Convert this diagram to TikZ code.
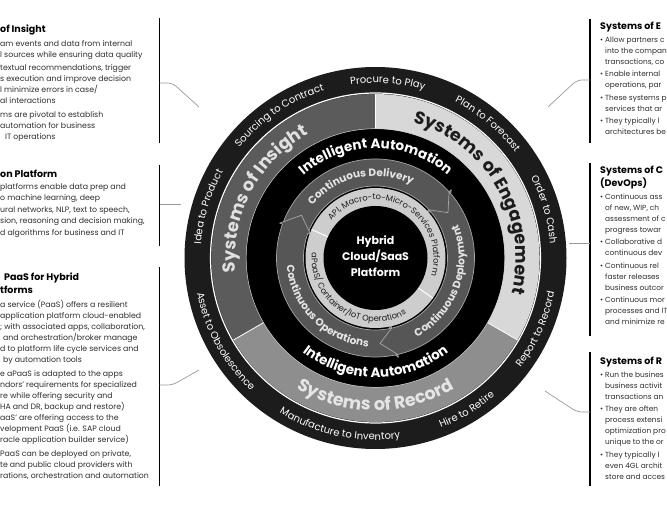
\documentclass[tikz,border=0pt]{standalone}
\usepackage{fontspec}
\setmainfont{Poppins}
\usetikzlibrary{decorations.text, positioning, calc}

\definecolor{ringblack}{HTML}{1C1C1C}
\definecolor{insightgray}{HTML}{5B5B5B}
\definecolor{engagegray}{HTML}{D8D8D8}
\definecolor{recordgray}{HTML}{8E8E8E}
\definecolor{contgray}{HTML}{565656}
\definecolor{contline}{HTML}{A5A5A5}
\definecolor{apigray}{HTML}{CDCDCD}
\definecolor{linkgray}{HTML}{9A9A9A}
\definecolor{bodytext}{HTML}{2E2E2E}

\tikzset{
  paneltitle/.style={anchor=north west, inner sep=0pt, font=\fontsize{9.5}{13}\selectfont\bfseries, align=left},
  panelbody/.style={inner sep=0pt, font=\fontsize{7.8}{11}\selectfont, text=bodytext, align=left},
  panelbar/.style={line width=1.3pt},
  link/.style={linkgray, line width=0.7pt, rounded corners=5pt},
}

% text along an arc, centred on angle #1, radius #2
\newcommand{\cwlabel}[4]{\path[decorate, decoration={text along path, text align=center, #3, text={#4}}] ({#1+110}:#2) arc[start angle={#1+110}, end angle={#1-110}, radius=#2];}
\newcommand{\ccwlabel}[4]{\path[decorate, decoration={text along path, text align=center, #3, text={#4}}] ({#1-110}:#2) arc[start angle={#1-110}, end angle={#1+110}, radius=#2];}
% one curved block arrow of the delivery cycle, from #1 to #2 (clockwise)
\newcommand{\cyclearrow}[2]{\filldraw[fill=contgray, draw=contline, line width=0.7pt, line join=round]
  (#1:99) arc[start angle=#1, end angle=#2, radius=99] -- (#2:102) -- ({#2-10}:85.5) -- (#2:69) -- (#2:72)
  arc[start angle=#2, end angle=#1, radius=72] -- ({#1-10}:85.5) -- cycle;}
\newcommand{\bul}{\textbullet\ }
\newcommand{\ind}{\phantom{\textbullet\ }}

\begin{document}
\begin{tikzpicture}[x=1pt, y=1pt]
\useasboundingbox (0,0) rectangle (667,504);

% the wheel
\begin{scope}[shift={(375.5,246)}]
\fill[ringblack] (0,0) circle[radius=191];
\fill[insightgray] (90:164) arc[start angle=90, end angle=210, radius=164] -- (210:129) arc[start angle=210, end angle=90, radius=129] -- cycle;
\fill[engagegray] (-30:164) arc[start angle=-30, end angle=90, radius=164] -- (90:129) arc[start angle=90, end angle=-30, radius=129] -- cycle;
\fill[recordgray] (210:164) arc[start angle=210, end angle=330, radius=164] -- (330:129) arc[start angle=330, end angle=210, radius=129] -- cycle;
\draw[white, line width=1.2pt] (0,0) circle[radius=165];
\foreach \a in {90,210,330}
  \draw[white, line width=0.8pt] (\a:129) -- (\a:164);
\fill[black] (0,0) circle[radius=129];
\draw[white!80!black, line width=0.5pt] (0,0) circle[radius=129.3];

% continuous delivery cycle
\cyclearrow{160}{42}
\cyclearrow{42}{-77}
\cyclearrow{-77}{-200}

\fill[apigray] (0,0) circle[radius=70];
\foreach \a in {156,-35}
  \draw[white, line width=1pt] (\a:52) -- (\a:70);
\fill[black] (0,0) circle[radius=52];
\node[align=center, text=white, font=\fontsize{11}{16}\selectfont\bfseries] (hub) at (0,2) {Hybrid\\Cloud/SaaS\\Platform};

% value streams
\cwlabel{124}{175}{text color=white}{|\fontsize{10}{10}\selectfont|Sourcing to Contract}
\cwlabel{86}{175}{text color=white}{|\fontsize{10}{10}\selectfont|Procure to Play}
\cwlabel{50}{175}{text color=white}{|\fontsize{10}{10}\selectfont|Plan to Forecast}
\cwlabel{16}{175}{text color=white}{|\fontsize{10}{10}\selectfont|Order to Cash}
\cwlabel{163}{175}{text color=white}{|\fontsize{10}{10}\selectfont|Idea to Product}
\ccwlabel{209}{182}{text color=white}{|\fontsize{10}{10}\selectfont|Asset to Obsolescence}
\ccwlabel{258}{182}{text color=white}{|\fontsize{10}{10}\selectfont|Manufacture to Inventory}
\ccwlabel{301}{182}{text color=white}{|\fontsize{10}{10}\selectfont|Hire to Retire}
\ccwlabel{336}{182}{text color=white}{|\fontsize{10}{10}\selectfont|Report to Record}

% systems
\cwlabel{152}{140.4}{text color=white!88!black}{|\fontsize{17.5}{17.5}\selectfont\bfseries|Systems of Insight}
\cwlabel{30}{140.4}{text color=ringblack}{|\fontsize{17.5}{17.5}\selectfont\bfseries|Systems of Engagement}
\ccwlabel{270}{152.6}{text color=white!90!black}{|\fontsize{17.5}{17.5}\selectfont\bfseries|Systems of Record}

% intelligent automation
\cwlabel{90}{109.8}{text color=white}{|\fontsize{13.5}{13.5}\selectfont\bfseries|Intelligent Automation}
\ccwlabel{270}{119.2}{text color=white}{|\fontsize{13.5}{13.5}\selectfont\bfseries|Intelligent Automation}

% cycle
\cwlabel{102}{81.9}{text color=white!90!black}{|\fontsize{10.5}{10.5}\selectfont\bfseries|Continuous Delivery}
\ccwlabel{-20}{89.1}{text color=white!90!black}{|\fontsize{10.5}{10.5}\selectfont\bfseries|Continuous Deployment}
\ccwlabel{225}{89.1}{text color=white!90!black}{|\fontsize{10.5}{10.5}\selectfont\bfseries|Continuous Operations}

% platform ring
\cwlabel{61}{58.1}{text color=ringblack}{|\fontsize{8.3}{8.3}\selectfont|API, Macro-to-Micro-Services Platform}
\ccwlabel{237}{63.9}{text color=ringblack}{|\fontsize{8.3}{8.3}\selectfont|aPaaS/ Container/IoT Operations}
\end{scope}

% left panels
\node[paneltitle] (insTitle) at (0,479) {of Insight};
\node[panelbody, below right=5pt and 0pt of insTitle.south west] (insBody) {am events and data from internal\\
l sources while ensuring data quality\\[2pt]
textual recommendations, trigger\\
s execution and improve decision\\
l minimize errors in case/\\
al interactions\\[3pt]
ms are pivotal to establish\\
automation for business\\
\hspace{5pt}IT operations};

\node[paneltitle] (aiTitle) at (0,334) {on Platform};
\node[panelbody, below right=5pt and 0pt of aiTitle.south west, font=\fontsize{7.8}{11.5}\selectfont] (aiBody) {platforms enable data prep and\\
o machine learning, deep\\
ural networks, NLP, text to speech,\\
sion, reasoning and decision making,\\
d algorithms for business and IT};

\node[paneltitle] (paasTitle) at (4,231) {PaaS for Hybrid\\\hspace{-4pt}tforms};
\node[panelbody, below right=6pt and -4pt of paasTitle.south west] (paasBody) {a service (PaaS) offers a resilient\\
application platform cloud-enabled\\
; with associated apps, collaboration,\\
\hspace{3pt}and orchestration/broker manage\\
d to platform life cycle services and\\
\hspace{3pt}by automation tools\\[3pt]
e aPaaS is adapted to the apps\\
ndors' requirements for specialized\\
re while offering security and\\
HA and DR, backup and restore)\\
aaS' are offering access to the\\
velopment PaaS (i.e. SAP cloud\\
racle application builder service)\\[3pt]
PaaS can be deployed on private,\\
te and public cloud providers with\\
rations, orchestration and automation};

% right panels
\node[paneltitle] (engTitle) at (600,482) {Systems of E};
\node[panelbody, below right=4pt and 0pt of engTitle.south west, font=\fontsize{7.4}{11}\selectfont] (engBody) {\bul Allow partners c\\
\ind into the compan\\
\ind transactions, co\\[1.5pt]
\bul Enable internal\\
\ind operations, par\\[1.5pt]
\bul These systems p\\
\ind services that ar\\[1.5pt]
\bul They typically l\\
\ind architectures be};

\node[paneltitle] (devTitle) at (600,338) {Systems of C\\(DevOps)};
\node[panelbody, below right=4pt and 0pt of devTitle.south west, font=\fontsize{7.4}{11}\selectfont] (devBody) {\bul Continuous ass\\
\ind of new, WIP, ch\\
\ind assessment of c\\
\ind progress towar\\[1.5pt]
\bul Collaborative d\\
\ind continuous dev\\[1.5pt]
\bul Continuous rel\\
\ind faster releases\\
\ind business outcor\\[1.5pt]
\bul Continuous mor\\
\ind processes and IT\\
\ind and minimize re};

\node[paneltitle] (recTitle) at (600,147) {Systems of R};
\node[panelbody, below right=4pt and 0pt of recTitle.south west, font=\fontsize{7.4}{11}\selectfont] (recBody) {\bul Run the busines\\
\ind business activit\\
\ind transactions an\\[1.5pt]
\bul They are often\\
\ind process extensi\\
\ind optimization pro\\
\ind unique to the or\\[1.5pt]
\bul They typically l\\
\ind even 4GL archit\\
\ind store and acces};

% bars
\draw[panelbar] (159.5,486) -- (159.5,361);
\draw[panelbar] (159.5,339) -- (159.5,258);
\draw[panelbar] (159.5,237) -- (159.5,18);
\draw[panelbar] (590,485) -- (590,361);
\draw[panelbar] (590,341) -- (590,168);
\draw[panelbar] (590,152) -- (590,18);

% connectors
\coordinate (insBar) at (159.5,421);
\coordinate (insRing) at (199,397);
\coordinate (aiBar) at (159.5,300);
\coordinate (aiRing) at (181,300);
\coordinate (paasBar) at (159.5,119);
\coordinate (paasRing) at (199,134);
\coordinate (engBar) at (590,424);
\coordinate (engRing) at (548,397);
\coordinate (devBar) at (590,261);
\coordinate (devRing) at (569,261);
\coordinate (recBar) at (590,92);
\coordinate (recRing) at (545,113);
\draw[link] (insBar) -- ++(13,0) -- (insRing);
\draw[link] (aiBar) -- (aiRing);
\draw[link] (paasBar) -- ++(13,0) -- (paasRing);
\draw[link] (engBar) -- ++(-13,0) -- (engRing);
\draw[link] (devBar) -- (devRing);
\draw[link] (recBar) -- ++(-13,0) -- (recRing);
\end{tikzpicture}
\end{document}
